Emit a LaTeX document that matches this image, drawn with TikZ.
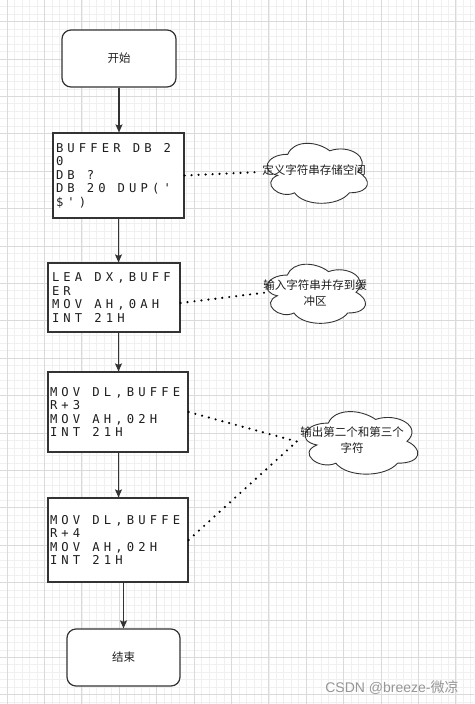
\documentclass[tikz,border=0pt]{standalone}
\usepackage{fontspec}
\setmainfont{Liberation Sans}
\newfontfamily\cjk{Noto Sans CJK SC}
\newfontfamily\codefont[LetterSpace=34]{DejaVu Sans Mono}
\usetikzlibrary{arrows.meta,calc}
\pgfdeclarelayer{gridlayer}
\pgfdeclarelayer{cloudlayer}
\pgfsetlayers{gridlayer,cloudlayer,main}
\definecolor{linec}{RGB}{51,51,51}
\definecolor{minorgrid}{RGB}{240,240,240}
\definecolor{majorgrid}{RGB}{218,218,218}
\definecolor{txt}{RGB}{30,30,30}
\definecolor{wmc}{RGB}{150,150,150}
\newcommand\csp{\hspace*{12pt}}
\tikzset{
  termbox/.style={draw=linec, line width=1.2pt, rounded corners=9pt, fill=white, inner sep=0pt,
    font=\cjk\fontsize{11.5}{13}\selectfont, text=txt},
  codebox/.style={draw=linec, line width=1.2pt, fill=white, inner ysep=0pt, align=left,
    font=\codefont\fontsize{12.2}{13.5}\selectfont, text=txt},
  cloudbox/.style={inner sep=0pt},
  cloudtext/.style={inner sep=0pt, align=center, font=\cjk\fontsize{11.5}{16}\selectfont, text=txt},
  cloudline/.style={draw=linec, fill=white, line width=0.9pt},
  flow/.style={draw=linec, line width=1.2pt, -{Stealth[length=8pt,width=7pt,inset=1.5pt]}},
  dots/.style={draw=black, line width=2.4pt, dash pattern=on 0pt off 7pt, line cap=round},
}
\newcommand\drawcloud[3]{%
  \begin{scope}[shift={(#1.north west)},x=#2pt,y=-#3pt]
    \path[cloudline] (0.25,0.25) .. controls (0.05,0.25) and (0,0.5) .. (0.16,0.55)
      .. controls (0,0.66) and (0.18,0.9) .. (0.31,0.8)
      .. controls (0.4,1) and (0.7,1) .. (0.8,0.8)
      .. controls (1,0.8) and (1,0.6) .. (0.875,0.5)
      .. controls (1,0.3) and (0.8,0.1) .. (0.625,0.2)
      .. controls (0.5,0.05) and (0.3,0.05) .. (0.25,0.25) -- cycle;
  \end{scope}}
\begin{document}
\begin{tikzpicture}[x=1pt,y=-1pt]
\useasboundingbox (0,0) rectangle (474,704);
\begin{pgfonlayer}{gridlayer}
  \fill[white] (0,0) rectangle (474,704);
  \foreach \i in {-1,...,63} \draw[minorgrid, line width=0.6pt] ({7+7.48*\i},0) -- ({7+7.48*\i},704);
  \foreach \j in {-3,...,92} \draw[minorgrid, line width=0.6pt] (0,{21.5+7.48*\j}) -- (474,{21.5+7.48*\j});
  \foreach \i in {0,...,12} \draw[majorgrid, line width=0.7pt] ({7+37.4*\i},0) -- ({7+37.4*\i},704);
  \foreach \j in {-1,...,18} \draw[majorgrid, line width=0.7pt] (0,{21.5+37.4*\j}) -- (474,{21.5+37.4*\j});
\end{pgfonlayer}

% terminals
\node[termbox, minimum width=114pt, minimum height=57pt] (s) at (119,58.5) {开始};
\node[termbox, minimum width=113pt, minimum height=57pt] (e) at (123.5,657.5) {结束};

% code boxes
\node[codebox, minimum width=131pt, minimum height=85pt, inner xsep=3pt, text width=125pt] (b1) at (118.5,175.5)
  {BUFFER\csp DB\csp 2\\0\\DB\csp ?\\DB\csp 20\csp DUP('\\\$')};
\node[codebox, minimum width=132pt, minimum height=69pt, inner xsep=4pt, text width=124pt] (b2) at (114,297.5)
  {LEA\csp DX,BUFF\\ER\\MOV\csp AH,0AH\\INT\csp 21H};
\node[codebox, minimum width=140pt, minimum height=80pt, inner xsep=2pt, text width=136pt] (b3) at (118,412)
  {MOV\csp DL,BUFFE\\R+3\\MOV\csp AH,02H\\INT\csp 21H};
\node[codebox, minimum width=140pt, minimum height=84pt, inner xsep=2pt, text width=136pt] (b4) at (118,540)
  {MOV\csp DL,BUFFE\\R+4\\MOV\csp AH,02H\\INT\csp 21H};

% clouds
\node[cloudbox, minimum width=112pt, minimum height=70pt] (c1) at (316,172) {};
\node[cloudbox, minimum width=110pt, minimum height=69pt] (c2) at (315,292.5) {};
\node[cloudbox, minimum width=126pt, minimum height=73pt] (c3) at (360,441.5) {};
\begin{pgfonlayer}{cloudlayer}
  \drawcloud{c1}{112}{70}
  \drawcloud{c2}{110}{69}
  \drawcloud{c3}{126}{73}
\end{pgfonlayer}
\node[cloudtext] (t1) at (314,170.5) {定义字符串存储空间};
\node[cloudtext] (t2) at (315,293) {输入字符串并存到缓\\冲区};
\node[cloudtext] (t3) at (352,440) {输出第二个和第三个\\字符};

% flow arrows
\draw[flow] (s.south) -- (s.south |- b1.north);
\draw[flow] (b1.south) -- (b1.south |- b2.north);
\draw[flow] (b1.south |- b2.south) -- (b1.south |- b3.north);
\draw[flow] (b1.south |- b3.south) -- (b1.south |- b4.north);
\draw[flow] (e.north |- b4.south) -- (e.north);

% dotted connectors
\draw[dots] (b1.east) -- (c1.west);
\draw[dots] ([yshift=-5.5pt]b2.east) -- ([xshift=6pt]c2.west);
\draw[dots] (b3.east) -- (c3.west);
\draw[dots] (b4.east) -- (c3.west);

% watermark
\node[text=wmc, font=\fontsize{14}{16}\selectfont, inner sep=0pt] (wm) at (392,688) {CSDN @breeze-{\cjk 微凉}};
\end{tikzpicture}
\end{document}
